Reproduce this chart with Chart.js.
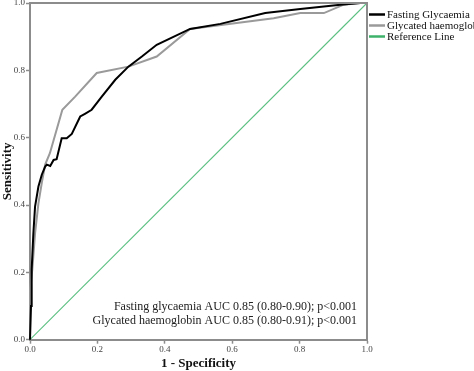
<!DOCTYPE html>
<html>
<head>
<meta charset="utf-8">
<script src="https://cdn.jsdelivr.net/npm/chart.js@4/dist/chart.umd.min.js"></script>
<style>
html,body{margin:0;padding:0;background:#fff;}
#wrap{width:474px;height:371px;position:relative;}
</style>
</head>
<body>
<div id="wrap"><canvas id="c" width="474" height="371"></canvas></div>
<script>
// Data
const fastingX = [0, 0.003, 0.005, 0.010, 0.015, 0.025, 0.035, 0.045, 0.050, 0.060, 0.070, 0.079, 0.094, 0.109, 0.124, 0.149, 0.163, 0.183, 0.213, 0.253, 0.292, 0.332, 0.376, 0.475, 0.565, 0.698, 0.802, 0.921, 0.980, 1.0];
const fastingY = [0, 0.10, 0.21, 0.316, 0.395, 0.455, 0.49, 0.514, 0.52, 0.516, 0.534, 0.536, 0.598, 0.598, 0.611, 0.663, 0.671, 0.683, 0.722, 0.772, 0.811, 0.841, 0.876, 0.923, 0.938, 0.970, 0.982, 0.995, 1.0, 1.0];
const glycX = [0, 0.000, 0.007, 0.015, 0.025, 0.035, 0.045, 0.059, 0.096, 0.134, 0.198, 0.292, 0.376, 0.475, 0.723, 0.802, 0.872, 0.931, 0.980, 1.0];
const glycY = [0, 0.147, 0.21, 0.316, 0.405, 0.466, 0.52, 0.554, 0.683, 0.722, 0.792, 0.811, 0.841, 0.923, 0.955, 0.970, 0.970, 0.995, 1.0, 1.0];
const refX = [0, 1];
const refY = [0, 1];
const seriesNames = ["Fasting Glycaemia", "Glycated haemoglobin", "Reference Line"];
const xTicks = [0, 0.2, 0.4, 0.6, 0.8, 1.0];
const yTicks = [0, 0.2, 0.4, 0.6, 0.8, 1.0];
const annotations = ["Fasting glycaemia AUC 0.85 (0.80-0.90); p<0.001", "Glycated haemoglobin AUC 0.85 (0.80-0.91); p<0.001"];

const colors = ["#000000", "#9a9a9a", "#5cc082"];
const widths = [2, 2, 1.1];
const toPts = (xs, ys) => xs.map((x, i) => ({x: x, y: ys[i]}));

const serif = "'Liberation Serif', 'Times New Roman', serif";
const axisGray = "#8c8c8c";

const framePlugin = {
  id: 'frame',
  afterDraw(chart) {
    const ctx = chart.ctx;
    const a = chart.chartArea;
    ctx.save();
    ctx.strokeStyle = axisGray;
    ctx.lineWidth = 2;
    ctx.beginPath();
    ctx.moveTo(a.left, a.top);
    ctx.lineTo(a.right, a.top);
    ctx.lineTo(a.right, a.bottom);
    ctx.stroke();
    // legend
    const lx = 369, tx = 387;
    const rows = [14.5, 25.5, 36.5];
    ctx.font = "11px " + serif;
    ctx.textBaseline = "middle";
    ctx.textAlign = "left";
    seriesNames.forEach((n, i) => {
      ctx.strokeStyle = i === 2 ? "#3fb26a" : colors[i];
      ctx.lineWidth = 2.5;
      ctx.beginPath();
      ctx.moveTo(lx, rows[i]);
      ctx.lineTo(lx + 16, rows[i]);
      ctx.stroke();
      ctx.fillStyle = "#111";
      ctx.fillText(n, tx, rows[i] + 0.5);
    });
    // annotation
    ctx.font = "12px " + serif;
    ctx.textAlign = "right";
    ctx.fillStyle = "#222";
    ctx.fillText(annotations[0], 357, 306.5);
    ctx.fillText(annotations[1], 357, 320.5);
    ctx.restore();
  }
};

new Chart(document.getElementById('c'), {
  type: 'line',
  data: {
    datasets: [
      {label: seriesNames[0], data: toPts(fastingX, fastingY), borderColor: colors[0], borderWidth: widths[0], pointRadius: 0, tension: 0, clip: false, order: 1},
      {label: seriesNames[1], data: toPts(glycX, glycY), borderColor: colors[1], borderWidth: widths[1], pointRadius: 0, tension: 0, clip: false, order: 2},
      {label: seriesNames[2], data: toPts(refX, refY), borderColor: colors[2], borderWidth: widths[2], pointRadius: 0, tension: 0, clip: false, order: 3}
    ]
  },
  options: {
    responsive: false,
    animation: false,
    events: [],
    layout: {padding: {top: 3, right: 107, left: 0, bottom: 0}},
    plugins: {legend: {display: false}, tooltip: {enabled: false}, title: {display: false}},
    scales: {
      x: {
        type: 'linear', min: 0, max: 1,
        afterBuildTicks(s) { s.ticks = xTicks.map(v => ({value: v})); },
        afterFit(s) { s.height = 31.3; s.paddingLeft = 0; s.paddingRight = 0; },
        ticks: {font: {family: serif, size: 9}, color: "#444", padding: 1, maxRotation: 0, callback: v => v.toFixed(1)},
        grid: {display: true, drawOnChartArea: false, drawTicks: true, tickLength: 4, color: axisGray, tickWidth: 1.5},
        border: {display: true, color: axisGray, width: 2},
        title: {display: true, text: "1 - Specificity", font: {family: serif, size: 13, weight: 'bold'}, color: "#111", padding: {top: 0, bottom: 0}}
      },
      y: {
        type: 'linear', min: 0, max: 1,
        afterBuildTicks(s) { s.ticks = yTicks.map(v => ({value: v})); },
        afterFit(s) { s.width = 30; s.paddingTop = 0; s.paddingBottom = 0; },
        ticks: {font: {family: serif, size: 9}, color: "#444", padding: 1, callback: v => v.toFixed(1)},
        grid: {display: true, drawOnChartArea: false, drawTicks: true, tickLength: 4, color: axisGray, tickWidth: 1.5},
        border: {display: true, color: axisGray, width: 2},
        title: {display: true, text: "Sensitivity", font: {family: serif, size: 13, weight: 'bold'}, color: "#111", padding: {top: 0, bottom: 0}}
      }
    }
  },
  plugins: [framePlugin]
});
</script>
</body>
</html>
